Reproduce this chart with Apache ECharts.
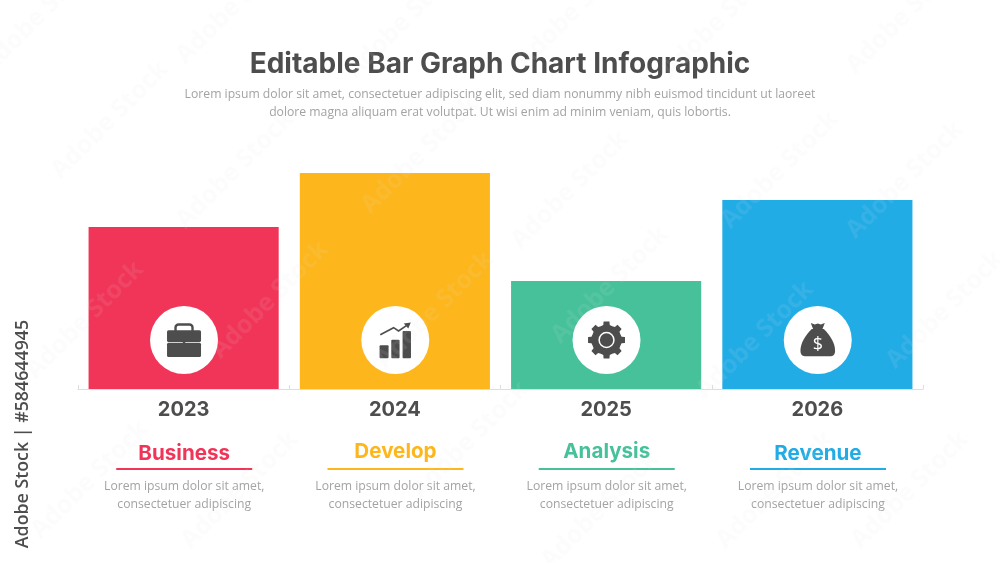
<!DOCTYPE html>
<html>
<head>
<meta charset="utf-8">
<style>html,body{margin:0;padding:0;background:#fff}#c{width:1000px;height:563px}</style>
<script src="https://cdn.jsdelivr.net/npm/echarts@6/dist/echarts.min.js"></script>
</head>
<body>
<div id="c"></div>
<script>
const years = ['2023', '2024', '2025', '2026'];
const values = [30, 40, 20, 35];
const headings = ['Business', 'Develop', 'Analysis', 'Revenue'];
const icons = ['briefcase', 'growth', 'gear', 'moneybag'];
const colors = ['#F13558', '#FDB71C', '#46C19A', '#22ACE6'];
const headingLift = [0, 2, 2, 0];
const titleText = 'Editable Bar Graph Chart Infographic';
const subtitleLines = [
  'Lorem ipsum dolor sit amet, consectetuer adipiscing elit, sed diam nonummy nibh euismod tincidunt ut laoreet',
  'dolore magna aliquam erat volutpat. Ut wisi enim ad minim veniam, quis lobortis.'
];
const bodyLines = ['Lorem ipsum dolor sit amet,', 'consectetuer adipiscing'];
const sideNote = 'Adobe Stock | #584644945';
const watermarkSpots = [
  [40,15],[235,5],[405,20],[575,10],[720,20],[905,15],
  [110,120],[235,170],[420,155],[570,190],[780,170],[905,180],
  [85,320],[270,300],[435,310],[610,285],[755,340],[945,310],
  [90,480],[240,490],[470,440],[600,510],[775,490],[910,490]
];

const ink = '#4D4D4D';
const FONT = 'Inter, "Open Sans", sans-serif';
const BODY = '"Open Sans", sans-serif';

function iconShapes(name, cx, cy) {
  const fill = { fill: ink };
  const t = (x, y) => [cx + x, cy + y];
  const poly = (pts, style) => ({ type: 'polygon', shape: { points: pts.map(p => t(p[0], p[1])) }, style: style || fill });
  const rect = (x, y, w, h, r) => ({ type: 'rect', shape: { x: cx + x, y: cy + y, width: w, height: h, r: r || 0 }, style: fill });
  if (name === 'briefcase') {
    return [
      { type: 'rect', shape: { x: cx - 8.5, y: cy - 15.5, width: 17, height: 9, r: 3 }, style: { fill: 'none', stroke: ink, lineWidth: 2.4 } },
      rect(-17, -9.7, 34, 11.8, 1.5),
      rect(-17, 2.8, 34, 14.2, 1.5),
      rect(-1.2, 0.5, 2.4, 3.2, 0.5)
    ];
  }
  if (name === 'growth') {
    return [
      rect(-15.7, 5.3, 9, 13, 1),
      rect(-4, -0.3, 8.3, 18.6, 1),
      rect(7.3, -9, 8.4, 27.3, 1),
      { type: 'polyline', shape: { points: [t(-15, -5.3), t(-1.7, -12.3), t(3.3, -9), t(13, -15.6)] }, style: { fill: 'none', stroke: ink, lineWidth: 1.6 } },
      poly([[15.5, -17.6], [8.5, -16.6], [13, -11.6]])
    ];
  }
  if (name === 'gear') {
    const pts = [];
    const teeth = 8;
    for (let i = 0; i < teeth; i++) {
      const a = i / teeth * Math.PI * 2;
      const step = Math.PI * 2 / teeth;
      [[-0.5, 15], [-0.27, 15.4], [-0.2, 18.7], [0.2, 18.7], [0.27, 15.4]].forEach(d => {
        const ang = a + d[0] * step;
        pts.push([Math.cos(ang) * d[1], Math.sin(ang) * d[1]]);
      });
    }
    return [
      poly(pts),
      { type: 'circle', shape: { cx: cx, cy: cy, r: 7.4 }, style: { fill: ink, stroke: '#fff', lineWidth: 1.5 } }
    ];
  }
  return [
    { type: 'path', shape: { pathData: `M${cx - 6},${cy - 11} C${cx - 12},${cy - 5} ${cx - 17.5},${cy + 3} ${cx - 17.3},${cy + 11} C${cx - 17.2},${cy + 15} ${cx - 15},${cy + 16.3} ${cx - 12},${cy + 16.3} L${cx + 12},${cy + 16.3} C${cx + 15},${cy + 16.3} ${cx + 17.2},${cy + 15} ${cx + 17.3},${cy + 11} C${cx + 17.5},${cy + 3} ${cx + 12},${cy - 5} ${cx + 6},${cy - 11} Z` }, style: fill },
    poly([[-7, -17], [-3, -15.5], [0, -16.5], [3, -15.5], [7, -17], [4.5, -10.5], [-4.5, -10.5]]),
    { type: 'text', style: { text: '$', x: cx, y: cy + 4.5, fill: '#fff', font: '400 18px ' + BODY, align: 'center', verticalAlign: 'middle' } }
  ];
}

function renderIcon(params, api) {
  const base = api.coord([api.value(0), 0]);
  const cx = base[0] + 0.4, cy = base[1] - 49;
  return {
    type: 'group',
    children: [
      { type: 'circle', shape: { cx: cx, cy: cy, r: 34 }, style: { fill: '#fff' } }
    ].concat(iconShapes(icons[params.dataIndex], cx, cy))
  };
}

function renderCaption(params, api) {
  const i = params.dataIndex;
  const base = api.coord([api.value(0), 0]);
  const cx = base[0] + 0.6, by = base[1];
  const color = colors[i];
  return {
    type: 'group',
    children: [
      { type: 'text', style: { text: headings[i], x: cx, y: by + 64.5 - headingLift[i], fill: color, font: '700 20.6px ' + FONT, align: 'center', verticalAlign: 'middle' } },
      { type: 'rect', shape: { x: cx - 68, y: by + 79, width: 136, height: 2 }, style: { fill: color } },
      { type: 'text', style: { text: bodyLines[0], x: cx, y: by + 97.7, fill: '#A3A3A3', font: '400 12.2px ' + BODY, align: 'center', verticalAlign: 'middle' } },
      { type: 'text', style: { text: bodyLines[1], x: cx, y: by + 115.7, fill: '#A3A3A3', font: '400 12.2px ' + BODY, align: 'center', verticalAlign: 'middle' } }
    ]
  };
}

const chart = echarts.init(document.getElementById('c'), null, { renderer: 'canvas' });
chart.setOption({
  animation: false,
  backgroundColor: '#fff',
  grid: { left: 78, right: 77, top: 173, bottom: 174, containLabel: false },
  xAxis: {
    type: 'category',
    data: years,
    axisLine: { lineStyle: { color: '#DEDEDE', width: 1 } },
    axisTick: { show: true, inside: true, length: 4, lineStyle: { color: '#DEDEDE' } },
    axisLabel: { color: ink, fontFamily: FONT, fontWeight: 700, fontSize: 20, margin: 11 }
  },
  yAxis: { type: 'value', min: 0, max: 40, show: false, splitLine: { show: false } },
  series: [
    {
      type: 'bar',
      barCategoryGap: '10%',
      data: values.map((v, i) => ({ value: v, itemStyle: { color: colors[i] } }))
    },
    { type: 'custom', renderItem: renderIcon, data: years.map((y, i) => [i, values[i]]), encode: { x: 0, y: 1 }, z: 5, silent: true },
    { type: 'custom', renderItem: renderCaption, data: years.map((y, i) => [i, values[i]]), encode: { x: 0, y: 1 }, z: 5, silent: true }
  ],
  graphic: [
    { type: 'text', x: 500, y: 65, z: 10, style: { text: titleText, fill: ink, font: '700 28px ' + FONT, align: 'center', verticalAlign: 'middle' } },
    { type: 'text', x: 500, y: 94.7, z: 10, style: { text: subtitleLines[0], fill: '#A3A3A3', font: '400 12.2px ' + BODY, align: 'center', verticalAlign: 'middle' } },
    { type: 'text', x: 500, y: 112.2, z: 10, style: { text: subtitleLines[1], fill: '#A3A3A3', font: '400 12.2px ' + BODY, align: 'center', verticalAlign: 'middle' } },
    { type: 'text', x: 23, y: 434, rotation: Math.PI / 2, z: 10, style: { text: sideNote, fill: '#4D4D4D', font: '600 17.8px ' + BODY, align: 'center', verticalAlign: 'middle', textShadowColor: 'rgba(255,255,255,0.9)', textShadowBlur: 3 } }
  ].concat(watermarkSpots.map(p => ({
    type: 'text', x: p[0], y: p[1], rotation: Math.PI / 4, z: 20, silent: true,
    style: { text: 'Adobe Stock', fill: 'rgba(225,225,225,0.1)', font: '700 25px ' + BODY, align: 'center', verticalAlign: 'middle' }
  })))
});
</script>
</body>
</html>
